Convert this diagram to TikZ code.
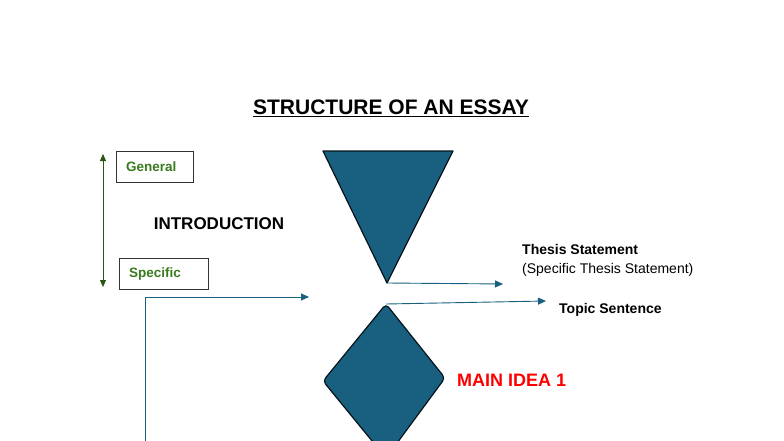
\documentclass[tikz,border=0pt]{standalone}
\usepackage{fontspec}
\setmainfont{Liberation Sans}
\usetikzlibrary{arrows.meta}
\definecolor{teal}{HTML}{185F80}
\definecolor{grn}{HTML}{3A7A1E}
\begin{document}
\begin{tikzpicture}[x=1pt,y=-1pt,
  shp/.style={fill=teal,draw=black!80!teal,line width=1.2pt,line join=round},
  conn/.style={draw=teal,line width=0.9pt,-{Triangle[length=8pt,width=7pt]}},
  lbl/.style={font=\bfseries,inner sep=0pt},
  gbox/.style={draw=black!80,line width=0.6pt,minimum width=77pt,minimum height=31pt,text=grn,font=\bfseries\fontsize{13.5}{16}\selectfont,align=left,text width=57pt,inner xsep=10pt}]
\useasboundingbox (0,0) rectangle (784,441);
\clip (0,0) rectangle (784,441);
\node[lbl,font=\bfseries\fontsize{21}{24}\selectfont] (title) at (391,108) {\underline{STRUCTURE OF AN ESSAY}};
\draw[shp] (323,151) -- (453,151) -- (387,283) -- cycle;
\coordinate (tip) at (387,283);
\draw[shp,rounded corners=4pt] (386,304) -- (445,378) -- (386,458) -- (323,381) -- cycle;
\coordinate (dtop) at (386,304);
\node[gbox] (gen) at (154.5,166.5) {General};
\node[gbox,text width=69pt] (spec) at (163.5,274) {Specific};
\coordinate (ga) at (103,154);
\coordinate (gb) at (103,287);
\draw[draw=grn!70!black,line width=0.8pt,{Triangle[length=7pt,width=6pt]}-{Triangle[length=7pt,width=6pt]}] (ga) -- (gb);
\node[lbl,font=\bfseries\fontsize{17}{20}\selectfont] (intro) at (219,224) {INTRODUCTION};
\coordinate (th) at (503,284);
\coordinate (ts) at (546,301);
\coordinate (lb) at (145,441);
\coordinate (le) at (309,297);
\draw[conn] (tip) -- (th);
\draw[conn] (dtop) -- (ts);
\draw[conn] (lb) |- (le);
\node[anchor=west,inner sep=0pt,font=\fontsize{14}{19}\selectfont,align=left] (thesis) at (522,260) {\textbf{Thesis Statement}\\(Specific Thesis Statement)};
\node[anchor=west,lbl,font=\bfseries\fontsize{14}{16}\selectfont] (topic) at (559,310) {Topic Sentence};
\node[anchor=west,lbl,text=red,font=\bfseries\fontsize{18}{20}\selectfont] (main) at (457,380) {MAIN IDEA 1};
\end{tikzpicture}
\end{document}
